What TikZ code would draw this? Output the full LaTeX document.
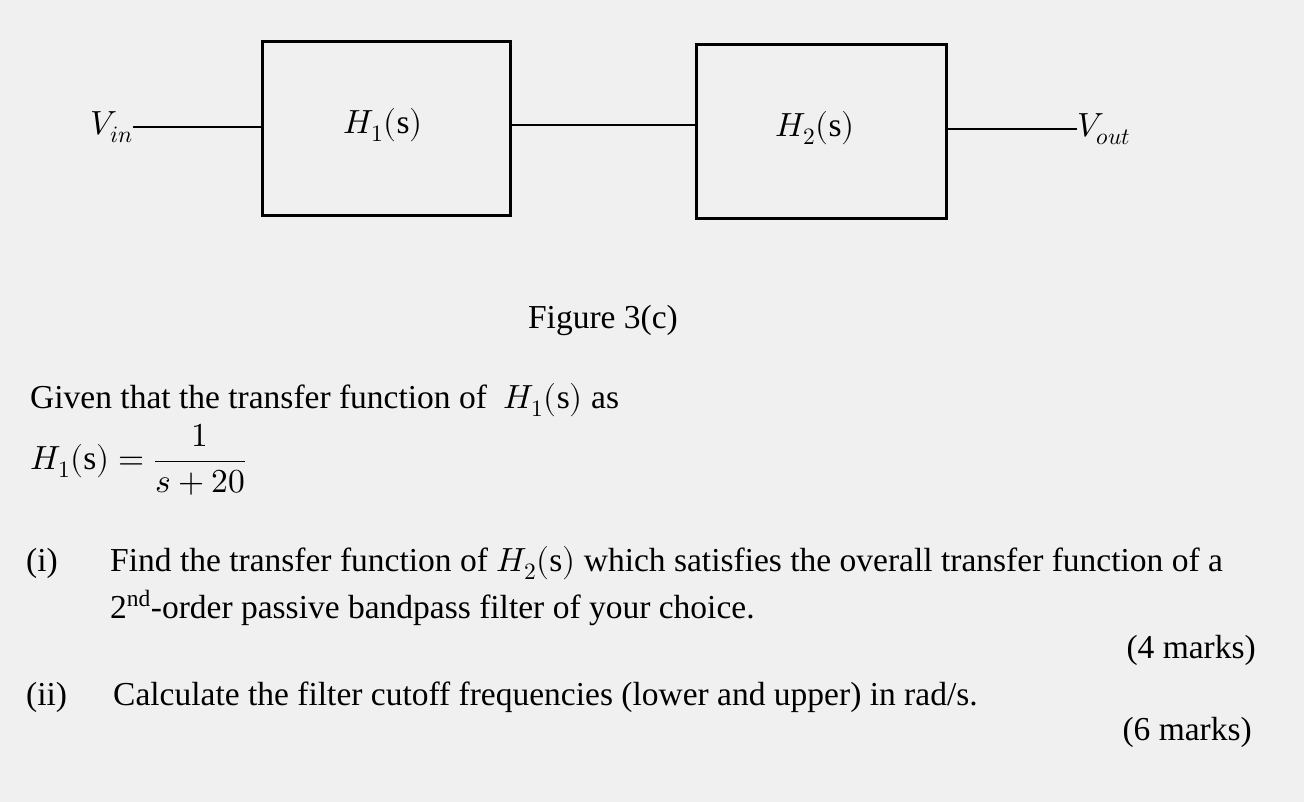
\documentclass[tikz,border=0pt]{standalone}
\usepackage{fontspec}
\setmainfont{Liberation Serif}
\usepackage{unicode-math}
\setmathfont{Latin Modern Math}
\begin{document}
\begin{tikzpicture}[x=1pt,y=-1pt,
  blk/.style={draw,line width=3pt,fill=none},
  wire/.style={line width=2.5pt},
  txt/.style={font=\fontsize{33.5}{38}\selectfont,inner sep=0pt}]
\fill[gray!12] (0,0) rectangle (1304,802);
\useasboundingbox (0,0) rectangle (1304,802);
\node[blk,minimum width=248pt,minimum height=174pt] (b1) at (386,129) {};
\node[blk,minimum width=250pt,minimum height=174pt] (b2) at (821,132) {};
\node[txt] at (383,125) {$H_1(\mathrm{s})$};
\node[txt] at (815,128) {$H_2(\mathrm{s})$};
\node[txt,anchor=east] (vin) at (133,127) {$V_{in}$};
\node[txt,anchor=west] (vout) at (1077,129) {$V_{out}$};
\draw[wire] (vin.east) -- (b1.west |- vin.east);
\draw[wire] (b1.east |- 0,125) coordinate (m1) -- (b2.west |- m1);
\draw[wire] (b2.east |- vout.west) -- (vout.west);
\node[txt] at (603,320) {Figure 3(c)};
\node[txt,anchor=west] at (30,400) {Given that the transfer function of \ $H_1(\mathrm{s})$ as};
\node[txt,anchor=west] at (30,460) {$H_1(\mathrm{s})=\dfrac{1}{s+20}$};
\node[txt,anchor=west] at (26,563) {(i)};
\node[txt,anchor=west] at (110,563) {Find the transfer function of $H_2(\mathrm{s})$ which satisfies the overall transfer function of a};
\node[txt,anchor=west] at (110,608) {2\textsuperscript{nd}-order passive bandpass filter of your choice.};
\node[txt,anchor=east] at (1256,650) {(4 marks)};
\node[txt,anchor=west] at (26,697) {(ii)};
\node[txt,anchor=west] at (113,697) {Calculate the filter cutoff frequencies (lower and upper) in rad/s.};
\node[txt,anchor=east] at (1252,732) {(6 marks)};
\end{tikzpicture}
\end{document}
